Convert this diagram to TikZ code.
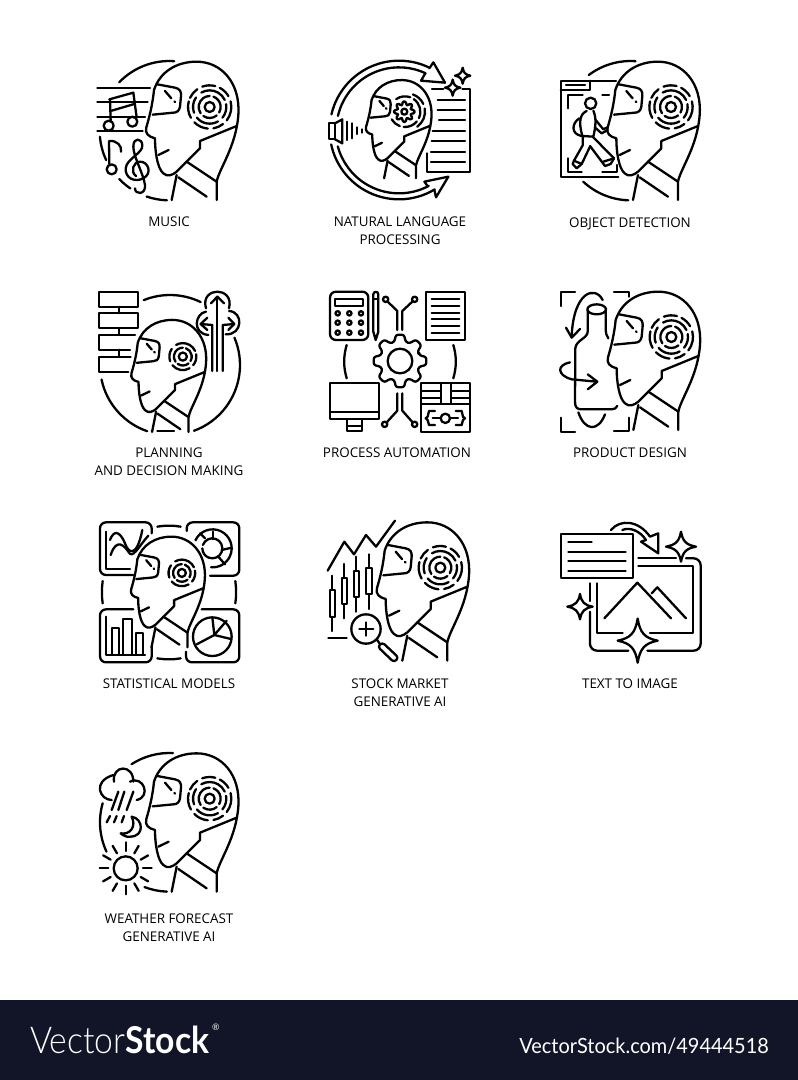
\documentclass[tikz,border=0pt]{standalone}
\usepackage{fontspec}
\setmainfont{Open Sans}
\newfontfamily\lightf{Lato Light}
\newfontfamily\boldf{Lato Bold}
\newfontfamily\regf{Lato}
\tikzset{
  ink/.style={line width=2.3pt,line cap=round,line join=round},
  lab/.style={font=\fontsize{13.4}{18}\selectfont,align=center,text=black,inner sep=0pt},
  crop/.style={shift={#1},scale=1/3}
}
% arc with screen angles
\newcommand\garc[5]{\draw ([shift={(#1,#2)}]#4:#3) arc[start angle=#4,end angle=#5,radius=#3];}
\newcommand\sparkle[4]{\draw ({#1},{#2-#4}) .. controls ({#1+.12*#3},{#2-.35*#4}) and ({#1+.35*#3},{#2-.12*#4}) .. ({#1+#3},{#2})
 .. controls ({#1+.35*#3},{#2+.12*#4}) and ({#1+.12*#3},{#2+.35*#4}) .. ({#1},{#2+#4})
 .. controls ({#1-.12*#3},{#2+.35*#4}) and ({#1-.35*#3},{#2+.12*#4}) .. ({#1-#3},{#2})
 .. controls ({#1-.35*#3},{#2-.12*#4}) and ({#1-.12*#3},{#2-.35*#4}) .. cycle;}
\newcommand\gearpath[5]{% cx cy tip root corner
 \begin{scope}[shift={(#1,#2)}]
 \draw[rounded corners=#5] (-16:#4) \foreach \a in {0,45,...,315}{ -- ({\a-16}:#4) -- ({\a-9}:#3) -- ({\a+9}:#3) -- ({\a+16}:#4)} -- cycle;
 \end{scope}}
\newcommand\headbase{%
 \draw (410,480) -- (410,425) .. controls (418,385) and (468,320) .. (475,225) .. controls (482,130) and (425,65) .. (350,65) .. controls (290,65) and (240,95) .. (222,150) .. controls (218,190) and (210,225) .. (199,262) .. controls (194,280) and (205,290) .. (225,295) .. controls (225,335) and (232,385) .. (250,400) .. controls (262,412) and (278,405) .. (290,395) -- (360,325) -- (360,303) -- (470,258);
 \draw (232,133) -- (285,143) .. controls (300,146) and (304,155) .. (303,168) -- (300,200) .. controls (298,213) and (290,218) .. (280,218) -- (218,224);
 \draw (255,153) -- (274,175); \draw (283,184) -- (285,186);
 \draw (235,345) -- (266,330);
 \draw (320,365) -- (410,425);
 \draw (290,405) -- (275,480);
 \draw (295,412) -- (380,470);
}
\newcommand\earthree{%
 \draw (389,201) circle[radius=15];
 \garc{389}{201}{33}{-70}{30}\garc{389}{201}{33}{50}{125}\garc{389}{201}{33}{145}{270}
 \garc{389}{201}{50}{-120}{-25}\garc{389}{201}{50}{-10}{40}\garc{389}{201}{50}{60}{140}\garc{389}{201}{50}{160}{215}
}
\newcommand\earfour{\earthree
 \garc{389}{201}{65}{-110}{-75}\garc{389}{201}{65}{-62}{-30}\garc{389}{201}{65}{-15}{38}\garc{389}{201}{65}{52}{80}\garc{389}{201}{65}{95}{135}\garc{389}{201}{65}{150}{195}\garc{389}{201}{65}{205}{235}
}
\begin{document}
\begin{tikzpicture}[x=1pt,y=-1pt,ink]
\useasboundingbox (0,0) rectangle (798,1080);
\fill[white] (0,0) rectangle (798,1080);

%% ---------- MUSIC
\begin{scope}[crop={(80,40)}]
 \headbase \earfour
 \garc{268}{272}{209}{-136}{-86}
 \garc{268}{272}{209}{155}{175}
 \garc{268}{272}{209}{124}{136}
 \garc{268}{272}{209}{92}{109}
 \draw (52,143) -- (210,143); \draw (52,186) -- (203,186); \draw (52,230) -- (195,230); \draw (52,273) -- (188,273);
 \draw (86,257) circle[radius=15]; \draw (157,245) circle[radius=15];
 \draw (88,178) -- (160,158); \draw (95,212) -- (163,192);
 \draw (90,178) -- (92,242); \draw (160,158) -- (170,232);
 \draw (95,388) circle[radius=15];
 \draw (88,372) -- (87,303) .. controls (110,300) and (127,318) .. (123,335);
 \draw (168,408) .. controls (150,395) and (160,365) .. (180,365) .. controls (205,365) and (218,400) .. (190,415) .. controls (165,428) and (135,415) .. (137,385) .. controls (140,355) and (190,340) .. (187,315) .. controls (186,295) and (160,290) .. (160,320) .. controls (160,350) and (190,400) .. (195,435) .. controls (198,465) and (165,465) .. (165,445);
\end{scope}
\node[lab] (lmusic) at (169,222) {MUSIC};

%% ---------- NLP
\begin{scope}[crop={(310,40)}]
 \begin{scope}[shift={(27,74)},scale=.71]
  \headbase
 \end{scope}
 \gearpath{283}{215}{31}{21}{1.2pt}
 \draw (283,215) circle[radius=9];
 \garc{285}{215}{46}{-125}{-70}\garc{285}{215}{46}{-55}{25}\garc{285}{215}{46}{40}{95}\garc{285}{215}{46}{110}{150}
 \garc{290}{215}{55}{-70}{-25}\garc{290}{215}{55}{-10}{55}
 \garc{267}{270}{208}{-167}{-64}
 \garc{267}{270}{188}{-167}{-65}
 \garc{267}{270}{208}{59}{168}
 \garc{267}{270}{190}{62}{165}
 \draw (358,85) -- (370,67) -- (405,128) -- (333,122) -- (346,100);
 \draw (352,437) -- (343,425) -- (415,410) -- (378,472) -- (373,449);
 \sparkle{458}{107}{23}{24}
 \sparkle{428}{143}{23}{24}
 \draw (457,148) -- (480,148) -- (480,397) -- (350,397) -- (350,340);
 \draw (366,148) -- (400,148);
 \draw (383,180) -- (465,180); \draw (383,211) -- (465,211); \draw (387,241) -- (465,241); \draw (368,272) -- (465,272); \draw (365,304) -- (465,304); \draw (363,335) -- (465,335); \draw (363,366) -- (465,366);
 \draw (58,250) rectangle (75,298);
 \draw (75,250) -- (97,238) -- (97,310) -- (75,298);
 \draw (110,245) -- (110,300); \draw (125,250) -- (125,295); \draw (140,262) -- (140,282); \draw (155,268) -- (155,278);
\end{scope}
\node[lab] (lnlp) at (400,231) {NATURAL LANGUAGE\\PROCESSING};

%% ---------- OBJECT DETECTION
\begin{scope}[crop={(540,40)}]
 \begin{scope}[shift={(4,0)}]\headbase \earfour\end{scope}
 \garc{272}{272}{209}{-127}{-86}
 \garc{272}{272}{209}{92}{133}
 \draw (228,122) -- (62,122) -- (62,410) -- (235,410);
 \draw (62,150) -- (150,150) -- (150,122);
 \draw (78,135) -- (135,135);
 \draw (83,205) -- (83,165) -- (128,165);
 \draw (187,165) -- (207,165);
 \draw (83,355) -- (83,395) -- (125,395);
 \draw (187,395) -- (230,395) -- (230,375);
 \draw (152,190) circle[radius=17];
 \draw (140,213) .. controls (120,222) and (115,245) .. (127,288) -- (160,290) .. controls (167,260) and (170,235) .. (160,212);
 \draw (118,235) .. controls (95,250) and (92,282) .. (125,288);
 \draw (167,240) -- (190,268) -- (202,262); \draw (164,262) -- (185,280) -- (203,270);
 \draw (128,290) -- (128,316) -- (102,362) -- (98,372) -- (110,385) -- (125,372) -- (150,320);
 \draw (102,362) -- (125,372);
 \draw (160,292) -- (222,355) -- (212,372) -- (195,378) -- (150,318);
 \draw (190,365) -- (222,355);
\end{scope}
\node[lab] (lobj) at (630,223.5) {OBJECT DETECTION};

%% ---------- PLANNING
\begin{scope}[crop={(80,275)}]
 \begin{scope}[shift={(-6.6,82)},scale=.81]\headbase \earthree\end{scope}
 \draw (58,50) rectangle (175,95);
 \draw (58,115) rectangle (175,160);
 \draw (165,180) -- (58,180) -- (58,224) -- (150,224);
 \draw (152,245) -- (58,245) -- (58,290) -- (145,290);
 \draw (117,95) -- (117,115); \draw (117,160) -- (117,180); \draw (117,224) -- (117,245);
 \garc{270}{270}{210}{-112}{-64}
 \garc{270}{270}{210}{-23}{70}
 \garc{270}{270}{210}{109}{168}
 \draw (232,467) -- (282,467);
 \draw (378,100) .. controls (368,65) and (392,50) .. (412,50) .. controls (432,50) and (456,65) .. (447,100);
 \draw (378,110) .. controls (345,115) and (335,175) .. (385,180);
 \draw (447,108) .. controls (490,110) and (490,180) .. (437,178);
 \draw (412,288) -- (412,65); \draw (393,85) -- (412,65) -- (432,85);
 \draw (397,288) -- (397,150) -- (362,147); \draw (382,128) -- (362,147) -- (382,165);
 \draw (428,288) -- (428,150) -- (463,147); \draw (445,128) -- (463,147) -- (445,165);
\end{scope}
\node[lab] (lplan) at (169,462) {PLANNING\\AND DECISION MAKING};

%% ---------- PROCESS AUTOMATION
\begin{scope}[crop={(310,275)}]
 \draw[rounded corners=6pt] (60,50) rectangle (175,195);
 \draw (75,72) rectangle (160,93);
 \foreach \yy in {115,143,173}{\foreach \xx in {83,118,153}{\draw (\xx,\yy) circle[radius=6.5];}}
 \draw (190,170) -- (190,58) .. controls (190,48) and (205,48) .. (205,58) -- (205,170) -- (197,195) -- cycle;
 \draw (190,72) -- (205,72);
 \draw (348,50) rectangle (465,195);
 \foreach \yy in {72,92,113,133,153,173}{\draw (365,\yy) -- (448,\yy);}
 \draw (110,210) .. controls (100,245) and (100,275) .. (110,310);
 \draw (430,210) .. controls (440,245) and (440,275) .. (430,310);
 \gearpath{270}{258}{80}{60}{2.5pt}
 \draw (270,258) circle[radius=37];
 \draw (227,73) circle[radius=8]; \draw (314,73) circle[radius=8];
 \draw (232,79) -- (262,108) -- (262,165); \draw (308,79) -- (277,108) -- (277,165);
 \draw (262,355) -- (262,407) -- (231,441); \draw (224,448) circle[radius=8];
 \draw (277,355) -- (277,407) -- (307,441); \draw (314,448) circle[radius=8];
 \draw (60,325) rectangle (207,432); \draw (60,410) -- (207,410);
 \draw (112,432) -- (112,468) -- (155,468) -- (155,432); \draw (112,452) -- (155,452);
 \draw (333,325) rectangle (480,470);
 \draw (333,348) -- (392,348); \draw (333,368) -- (392,368); \draw (423,348) -- (480,348); \draw (423,368) -- (480,368);
 \draw (392,325) -- (392,388) -- (423,388) -- (423,325);
 \draw (333,388) -- (480,388);
 \draw (406,430) circle[radius=14];
 \draw (375,408) -- (357,408) -- (353,425) -- (347,430) -- (353,435) -- (357,450) -- (375,450); \draw (368,430) -- (390,430);
 \draw (437,408) -- (455,408) -- (459,425) -- (465,430) -- (459,435) -- (455,450) -- (437,450); \draw (422,430) -- (444,430);
\end{scope}
\node[lab] (lproc) at (397,453) {PROCESS AUTOMATION};

%% ---------- PRODUCT DESIGN
\begin{scope}[crop={(540,275)}]
 \begin{scope}[shift={(5,-15)}]\headbase \earfour\end{scope}
 \draw (62,93) -- (62,50) -- (105,50); \draw (222,50) -- (268,50) -- (268,65);
 \draw (62,428) -- (62,470) -- (105,470); \draw (222,468) -- (268,468) -- (268,428);
 \draw (170,103) ellipse[x radius=28,y radius=15];
 \draw (143,105) -- (143,170) .. controls (143,190) and (108,195) .. (106,220) -- (105,380) .. controls (105,398) and (112,403) .. (125,403) -- (215,403) .. controls (222,403) and (228,400) .. (232,393);
 \draw (197,105) -- (197,165) .. controls (197,175) and (200,182) .. (205,190);
 \draw (188,75) .. controls (165,30) and (100,50) .. (95,185); \draw (78,158) -- (95,188) -- (120,162);
 \draw (90,262) .. controls (50,270) and (50,300) .. (95,313) -- (170,320); \draw (143,298) -- (172,320) -- (143,343);
 \draw (115,412) .. controls (135,470) and (175,470) .. (195,418);
\end{scope}
\node[lab] (lprod) at (630,453) {PRODUCT DESIGN};

%% ---------- STATISTICAL MODELS
\begin{scope}[crop={(80,505)}]
 \begin{scope}[shift={(-5.6,43)},scale=.8]\headbase \earthree\end{scope}
 \draw[rounded corners=6pt] (160,210) -- (60,210) -- (60,52) -- (215,52) -- (215,85);
 \draw[rounded corners=6pt] (320,78) -- (320,52) -- (478,52) -- (478,212) -- (390,212);
 \draw[rounded corners=6pt] (160,313) -- (60,313) -- (60,472) -- (215,472) -- (215,425);
 \draw[rounded corners=6pt] (365,313) -- (478,313) -- (478,472) -- (318,472) -- (318,440);
 \draw (232,65) .. controls (255,61) and (280,61) .. (302,65);
 \draw (232,460) .. controls (255,464) and (280,464) .. (302,460);
 \draw (68,228) .. controls (65,250) and (65,275) .. (68,295);
 \draw (466,228) .. controls (469,250) and (469,275) .. (466,295);
 \draw (78,80) -- (78,192) -- (150,192);
 \draw (90,105) .. controls (105,65) and (125,90) .. (135,115) .. controls (145,145) and (170,160) .. (187,75);
 \draw (92,150) .. controls (110,95) and (135,125) .. (145,140) .. controls (158,165) and (175,125) .. (205,92);
 \garc{398}{130}{57}{-155}{95}
 \garc{397}{130}{30}{-160}{180}
 \draw (398,80) -- (398,103); \draw (425,135) -- (455,128); \draw (415,155) -- (435,178);
 \draw (375,100) -- (360,85);
 \draw (78,335) -- (78,450) -- (195,450);
 \draw (95,450) -- (95,370) -- (118,370) -- (118,450);
 \draw (130,450) -- (130,343) -- (155,343) -- (155,450);
 \draw (168,450) -- (168,385) -- (190,385) -- (190,450);
 \draw (397,395) circle[radius=58];
 \draw (397,337) -- (403,390) -- (440,347); \draw (403,390) -- (453,402); \draw (403,390) -- (350,418);
\end{scope}
\node[lab] (lstat) at (169,684) {STATISTICAL MODELS};

%% ---------- STOCK MARKET
\begin{scope}[crop={(310,505)}]
 \begin{scope}[shift={(2,-13)}]\headbase \earfour\end{scope}
 \draw (53,197) -- (103,110) -- (132,148) -- (168,90) -- (198,125) -- (255,47);
 \draw (67,212) -- (67,255); \draw (67,335) -- (67,378); \draw (59,255) rectangle (75,335);
 \draw (103,177) -- (103,220); \draw (103,298) -- (103,340); \draw (95,220) rectangle (112,298);
 \draw (139,155) -- (139,197); \draw (139,277) -- (139,320); \draw (131,197) rectangle (148,277);
 \draw (176,148) -- (176,188); \draw (176,268) -- (176,312); \draw (167,188) rectangle (185,268);
 \draw (55,400) -- (110,400);
 \draw (168,372) circle[radius=44];
 \draw (148,372) -- (190,372); \draw (168,352) -- (168,392);
 \draw (200,403) -- (210,417);
 \draw[rounded corners=3pt] (203,425) -- (217,412) -- (266,458) -- (252,472) -- cycle;
\end{scope}
\node[lab] (lstock) at (400,693) {STOCK MARKET\\GENERATIVE AI};

%% ---------- TEXT TO IMAGE
\begin{scope}[crop={(540,505)}]
 \draw (62,88) rectangle (280,220);
 \draw (85,110) -- (155,110); \draw (85,140) -- (257,140); \draw (85,168) -- (257,168); \draw (85,197) -- (257,197);
 \draw (213,75) .. controls (240,42) and (295,45) .. (330,95) -- (355,85) -- (355,145) -- (303,110) -- (318,105) .. controls (300,78) and (270,65) .. (247,75);
 \draw (295,183) -- (460,183) -- (460,385) -- (330,385);
 \draw (248,385) -- (170,385) -- (170,235);
 \draw (295,160) -- (408,160);
 \draw[rounded corners=7pt] (438,160) -- (482,160) -- (482,437) -- (322,437);
 \draw[rounded corners=7pt] (265,437) -- (150,437) -- (150,320);
 \draw (150,288) -- (150,235);
 \draw (193,340) -- (292,233) -- (393,340);
 \draw (335,265) -- (352,247) -- (438,340);
 \sparkle{423}{125}{45}{45}
 \sparkle{120}{305}{38}{38}
 \sparkle{293}{407}{60}{66}
\end{scope}
\node[lab] (ltext) at (630,684) {TEXT TO IMAGE};

%% ---------- WEATHER
\begin{scope}[crop={(80,740)}]
 \begin{scope}[shift={(0,-25)}]\headbase \earfour\end{scope}
 \garc{268}{247}{208}{-123}{-87}
 \garc{268}{247}{208}{92}{111}
 \garc{268}{247}{208}{155}{196}
 \draw (95,180) .. controls (60,180) and (35,125) .. (100,105);
 \draw (102,125) .. controls (95,75) and (160,70) .. (160,125);
 \draw (150,125) .. controls (190,105) and (215,170) .. (170,180);
 \draw (115,155) -- (95,210); \draw (133,155) -- (115,210); \draw (160,155) -- (140,210);
 \draw (90,228) -- (80,247); \draw (110,228) -- (102,247); \draw (132,228) -- (125,247);
 \draw (155,230) .. controls (190,235) and (195,290) .. (150,290) .. controls (138,292) and (128,285) .. (122,280) .. controls (150,285) and (170,260) .. (155,230);
 \draw (137,385) circle[radius=36];
 \foreach \a in {0,30,...,330}{\draw ([shift={(137,385)}]\a:52) -- ([shift={(137,385)}]\a:78);}
\end{scope}
\node[lab] (lweather) at (169,927.5) {WEATHER FORECAST\\GENERATIVE AI};

%% ---------- FOOTER
\fill[fill={rgb,255:red,18;green,21;blue,39}] (0,1000) rectangle (798,1080);
\node[anchor=base west,inner sep=0pt,text=white,font=\fontsize{37}{37}\selectfont] (logo) at (29,1053.5) {\scalebox{.91}[1]{{\lightf Vector}{\boldf Stock}}};
\node[anchor=south west,inner sep=0pt,text=white,font=\fontsize{9}{9}\selectfont] (reg) at (211,1032) {\regf ®};
\node[anchor=base east,inner sep=0pt,text=white,font=\fontsize{21}{21}\selectfont] (ref) at (770,1053) {\scalebox{.95}[1]{\regf VectorStock.com/49444518}};
\end{tikzpicture}
\end{document}
